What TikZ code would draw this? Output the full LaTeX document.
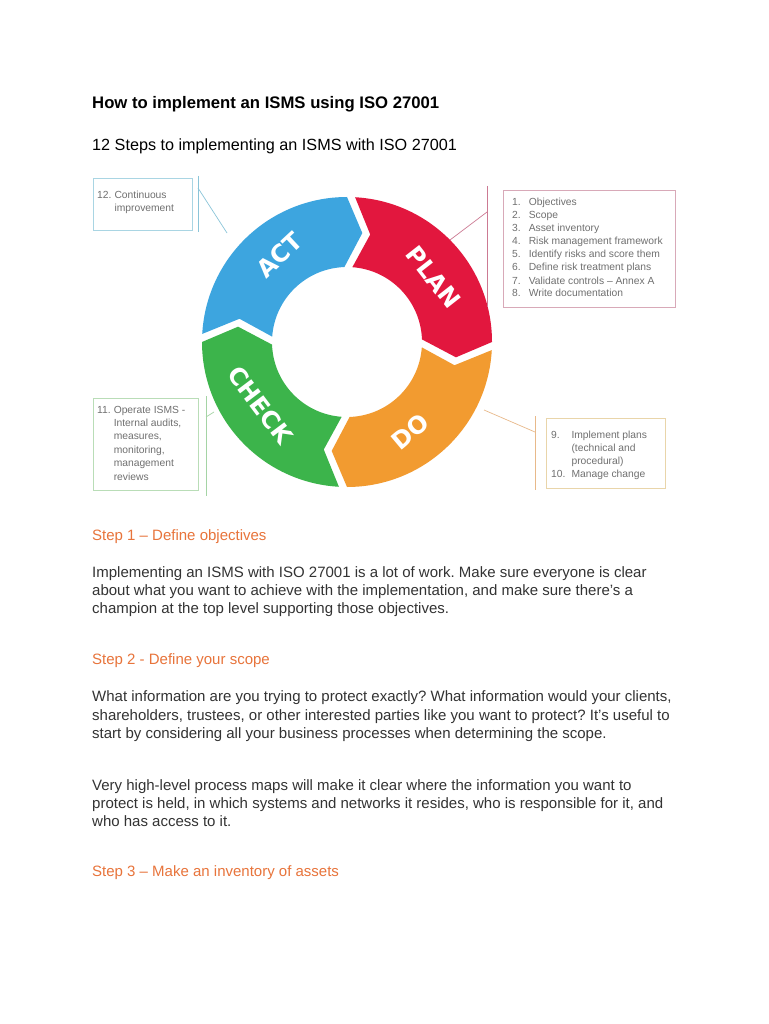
\documentclass[tikz,border=0pt]{standalone}
\usepackage{fontspec}
\setmainfont{Liberation Sans}
\newfontfamily\pdcafont{DejaVu Sans}
\frenchspacing
\definecolor{actblue}{HTML}{3DA5DF}
\definecolor{planred}{HTML}{E2173E}
\definecolor{doorange}{HTML}{F29B30}
\definecolor{checkgreen}{HTML}{3CB44B}
\definecolor{boxblue}{HTML}{A9D5E3}
\definecolor{boxred}{HTML}{D8A9B8}
\definecolor{boxtan}{HTML}{E9D5AA}
\definecolor{boxgreen}{HTML}{B9DDB7}
\definecolor{leadblue}{HTML}{8BC5D9}
\definecolor{leadred}{HTML}{CC7A93}
\definecolor{leadtan}{HTML}{E8B98A}
\definecolor{leadgreen}{HTML}{A5D4A5}
\definecolor{calltext}{HTML}{707070}
\definecolor{headorange}{HTML}{E8743B}
\definecolor{bodytext}{HTML}{333333}
\newcommand\pdcaseg[3]{%
  \fill[#1] ({#2+4.8}:145) arc[start angle={#2+4.8}, end angle={#3+8}, radius=145]
    -- ({#3}:110) -- ({#3+10}:75)
    arc[start angle={#3+10}, end angle={#2+3.9}, radius=75]
    -- ({#2-4.2}:110) -- cycle;}
\begin{document}
\begin{tikzpicture}[x=1pt,y=-1pt,
  txt/.style={anchor=base west, inner sep=0pt, font=\fontsize{15}{18}\selectfont, text=bodytext},
  steph/.style={txt, text=headorange},
  callout/.style={anchor=base west, inner sep=0pt, font=\fontsize{10.3}{13}\selectfont, text=calltext},
  pdca/.style={text=white, inner sep=0pt, font=\pdcafont\bfseries\fontsize{24}{24}\selectfont},
  cbox/.style={draw, line width=0.9pt, anchor=north west, inner sep=0pt},
  lead/.style={line width=0.7pt}]
\useasboundingbox[fill=white] (0,0) rectangle (768,1024);

% title
\node[anchor=base west, inner sep=0pt, font=\bfseries\fontsize{16.7}{20}\selectfont] (title) at (92,109) {How to implement an ISMS using ISO 27001};
\node[anchor=base west, inner sep=0pt, font=\fontsize{16.2}{20}\selectfont] (subtitle) at (92,151) {12 Steps to implementing an ISMS with ISO 27001};

% ring
\begin{scope}[shift={(347,342)}, yscale=-1]
  \pdcaseg{actblue}{172}{82}
  \pdcaseg{planred}{82}{-8}
  \pdcaseg{doorange}{-8}{-98}
  \pdcaseg{checkgreen}{262}{172}
  \node[pdca, rotate=43] (act) at (128:110) {ACT};
  \node[pdca, rotate=-52] (plan) at (37:108) {PLAN};
  \node[pdca, rotate=40] (do) at (-55:110) {DO};
  \node[pdca, rotate=-53] (check) at (216:107) {CHECK};
\end{scope}

% callout 12
\node[cbox, draw=boxblue, minimum width=99, minimum height=52] (box12) at (93,178) {};
\node[callout] (t12) at (97,199) {\begin{tabular}[t]{@{}l@{\hspace{3pt}}l@{}}12.&Continuous\\ &improvement\end{tabular}};
\coordinate (b12top) at (198,176);
\coordinate (b12bot) at (198,232);
\coordinate (b12a) at (198,188);
\coordinate (r12) at (227,233);
\draw[lead, draw=leadblue] (b12top) -- (b12bot);
\draw[lead, draw=leadblue] (b12a) -- (r12);

% callout plan
\node[cbox, draw=boxred, minimum width=172, minimum height=117] (boxp) at (503,190) {};
\node[callout] (tp) at (512,206) {\begin{tabular}[t]{@{}l@{\hspace{8pt}}l@{}}1.&Objectives\\ 2.&Scope\\ 3.&Asset inventory\\ 4.&Risk management framework\\ 5.&Identify risks and score them\\ 6.&Define risk treatment plans\\ 7.&Validate controls -- Annex A\\ 8.&Write documentation\end{tabular}};
\coordinate (bptop) at (487,186);
\coordinate (bpbot) at (487,307);
\coordinate (bpa) at (487,212);
\coordinate (rp) at (450,240);
\draw[lead, draw=leadred] (bptop) -- (bpbot);
\draw[lead, draw=leadred] (bpa) -- (rp);

% callout do
\node[cbox, draw=boxtan, minimum width=119, minimum height=70] (boxd) at (546,418) {};
\node[callout] (td) at (551,438) {\begin{tabular}[t]{@{}l@{\hspace{6pt}}l@{}}9.&Implement plans\\ &(technical and\\ &procedural)\\ 10.&Manage change\end{tabular}};
\coordinate (bdtop) at (535,416);
\coordinate (bdbot) at (535,490);
\coordinate (bda) at (535,432);
\coordinate (rd) at (484,410);
\draw[lead, draw=leadtan] (bdtop) -- (bdbot);
\draw[lead, draw=leadtan] (bda) -- (rd);

% callout check
\node[cbox, draw=boxgreen, minimum width=105, minimum height=92] (boxc) at (93,398) {};
\node[callout, font=\fontsize{10.3}{13.4}\selectfont] (tc) at (97,413) {\begin{tabular}[t]{@{}l@{\hspace{3pt}}l@{}}11.&Operate ISMS -\\ &Internal audits,\\ &measures,\\ &monitoring,\\ &management\\ &reviews\end{tabular}};
\coordinate (bctop) at (206,396);
\coordinate (bcbot) at (206,496);
\coordinate (bca) at (206,417);
\coordinate (rc) at (214,412);
\draw[lead, draw=leadgreen] (bctop) -- (bcbot);
\draw[lead, draw=leadgreen] (bca) -- (rc);

% body text
\node[steph] (s1) at (92,540) {Step 1 -- Define objectives};
\node[txt] (p1a) at (92,577) {Implementing an ISMS with ISO 27001 is a lot of work. Make sure everyone is clear};
\node[txt] (p1b) at (92,595) {about what you want to achieve with the implementation, and make sure there’s a};
\node[txt] (p1c) at (92,613) {champion at the top level supporting those objectives.};
\node[steph] (s2) at (92,664) {Step 2 - Define your scope};
\node[txt] (p2a) at (92,701) {What information are you trying to protect exactly? What information would your clients,};
\node[txt] (p2b) at (92,720) {shareholders, trustees, or other interested parties like you want to protect? It’s useful to};
\node[txt] (p2c) at (92,738) {start by considering all your business processes when determining the scope.};
\node[txt] (p3a) at (92,790) {Very high-level process maps will make it clear where the information you want to};
\node[txt] (p3b) at (92,808) {protect is held, in which systems and networks it resides, who is responsible for it, and};
\node[txt] (p3c) at (92,826) {who has access to it.};
\node[steph] (s3) at (92,876) {Step 3 -- Make an inventory of assets};
\end{tikzpicture}
\end{document}
